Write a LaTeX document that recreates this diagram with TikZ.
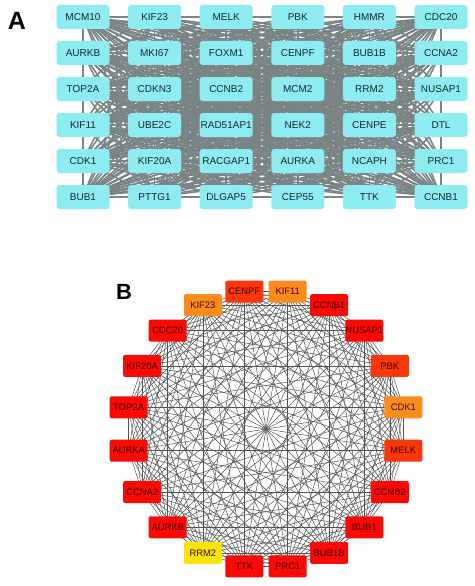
\documentclass[tikz,border=0pt]{standalone}
\usepackage{fontspec}
\setmainfont{Liberation Sans}
\usetikzlibrary{backgrounds}
\definecolor{cyanbox}{RGB}{140,236,242}
\definecolor{edgeA}{RGB}{122,132,132}
\definecolor{edgeB}{RGB}{80,85,85}
\definecolor{txtA}{RGB}{25,40,45}
\definecolor{cred}{RGB}{250,10,5}
\definecolor{cro}{RGB}{250,55,10}
\definecolor{corange}{RGB}{250,140,30}
\definecolor{cyellow}{RGB}{250,228,10}
\tikzset{
  boxA/.style={draw=none,fill=cyanbox,rounded corners=3pt,minimum width=53pt,minimum height=24pt,inner sep=0pt,font=\fontsize{10}{12}\selectfont,text=txtA},
  boxB/.style={draw=none,rounded corners=2pt,minimum width=38pt,minimum height=22pt,inner sep=0pt,font=\fontsize{9.4}{11}\selectfont,text=black!75!red},
  lineA/.style={draw=edgeA,line width=1.6pt},
  lineB/.style={draw=edgeB,line width=0.5pt},
  panel/.style={font=\fontsize{25}{28}\selectfont\bfseries}
}
\begin{document}
\begin{tikzpicture}[x=1pt,y=-1pt]
\useasboundingbox (0,0) rectangle (474,586);
\node[panel] (labA) at (17,21) {A};
\node[panel,font=\fontsize{22}{26}\selectfont\bfseries] (labB) at (124,292) {B};
% Panel A
\foreach \nm [count=\k from 0] in {MCM10,KIF23,MELK,PBK,HMMR,CDC20,
  AURKB,MKI67,FOXM1,CENPF,BUB1B,CCNA2,
  TOP2A,CDKN3,CCNB2,MCM2,RRM2,NUSAP1,
  KIF11,UBE2C,RAD51AP1,NEK2,CENPE,DTL,
  CDK1,KIF20A,RACGAP1,AURKA,NCAPH,PRC1,
  BUB1,PTTG1,DLGAP5,CEP55,TTK,CCNB1}{
  \pgfmathtruncatemacro\cc{mod(\k,6)}
  \pgfmathtruncatemacro\rr{div(\k,6)}
  \pgfmathtruncatemacro\nn{\k+1}
  \node[boxA] (a\nn) at ({83+71.6*\cc},{17+36*\rr}) {\nm};
}
\begin{pgfonlayer}{background}
\foreach \i in {1,...,35}{
  \pgfmathtruncatemacro\s{\i+1}
  \foreach \j in {\s,...,36}{
    \draw[lineA] (a\i.center) -- (a\j.center);
  }
}
\end{pgfonlayer}
% Panel B
\foreach \nm/\ang/\col [count=\k] in {KIF11/81/corange,CCNB1/63/cred,NUSAP1/45/cred,PBK/27/cro,
  CDK1/9/corange,MELK/-9/cro,CCNB2/-27/cred,BUB1/-45/cred,BUB1B/-63/cred,PRC1/-81/cred,
  TTK/-99/cred,RRM2/-117/cyellow,AURKB/-135/cred,CCNA2/-153/cred,AURKA/-171/cred,
  TOP2A/171/cred,KIF20A/153/cred,CDC20/135/cred,KIF23/117/corange,CENPF/99/cro}{
  \node[boxB,fill=\col] (b\k) at ({266+139*cos(\ang)},{429-139*sin(\ang)}) {\nm};
}
\begin{pgfonlayer}{background}
\foreach \i in {1,...,19}{
  \pgfmathtruncatemacro\s{\i+1}
  \foreach \j in {\s,...,20}{
    \draw[lineB] (b\i.center) -- (b\j.center);
  }
}
\end{pgfonlayer}
\end{tikzpicture}
\end{document}
